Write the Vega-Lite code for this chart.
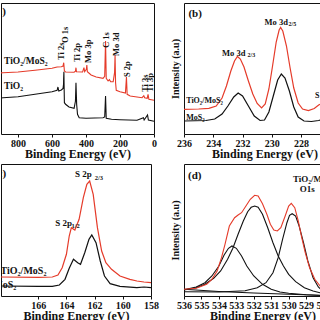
{
  "$schema": "https://vega.github.io/schema/vega-lite/v6.json",
  "background": "white",
  "padding": {"left": -2, "top": 2, "right": 0, "bottom": 0},
  "config": {
    "font": "Liberation Serif",
    "view": {"stroke": "#111111", "strokeWidth": 1},
    "axis": {
      "grid": false, "domain": false,
      "labelFont": "Liberation Serif", "labelFontWeight": "bold", "labelFontSize": 10, "labelColor": "#111111",
      "labelFlush": false, "labelOverlap": false, "labelPadding": 1,
      "titleFont": "Liberation Serif", "titleFontWeight": "bold", "titleFontSize": 12, "titleColor": "#111111", "titlePadding": 0,
      "tickColor": "#111111", "tickSize": 3
    },
    "text": {"font": "Liberation Serif", "fontWeight": "bold", "color": "#111111"}
  },
  "datasets": {
    "a_lines": [
      {"E":900,"I":61.1,"s":"r"},{"E":888,"I":61.3,"s":"r"},{"E":800,"I":62,"s":"r"},{"E":700,"I":63.7,"s":"r"},{"E":600,"I":65.7,"s":"r"},{"E":570,"I":67,"s":"r"},{"E":545,"I":67.3,"s":"r"},{"E":535,"I":68,"s":"r"},{"E":531,"I":71.3,"s":"r"},{"E":527,"I":63,"s":"r"},{"E":520,"I":62,"s":"r"},{"E":470,"I":61.7,"s":"r"},{"E":462,"I":62.7,"s":"r"},{"E":459,"I":66.3,"s":"r"},{"E":456,"I":62.3,"s":"r"},{"E":420,"I":62,"s":"r"},{"E":412,"I":66.3,"s":"r"},{"E":408,"I":62.3,"s":"r"},{"E":398,"I":64.7,"s":"r"},{"E":395,"I":69,"s":"r"},{"E":392,"I":62.3,"s":"r"},{"E":370,"I":59,"s":"r"},{"E":340,"I":57,"s":"r"},{"E":300,"I":55.7,"s":"r"},{"E":290,"I":57.7,"s":"r"},{"E":285,"I":93,"s":"r"},{"E":281,"I":55.7,"s":"r"},{"E":270,"I":53,"s":"r"},{"E":262,"I":54.3,"s":"r"},{"E":255,"I":52.3,"s":"r"},{"E":240,"I":52.3,"s":"r"},{"E":232,"I":61.3,"s":"r"},{"E":229,"I":79,"s":"r"},{"E":226,"I":51.3,"s":"r"},{"E":222,"I":43.7,"s":"r"},{"E":200,"I":42.3,"s":"r"},{"E":168,"I":41,"s":"r"},{"E":162,"I":57,"s":"r"},{"E":158,"I":39.7,"s":"r"},{"E":140,"I":38,"s":"r"},{"E":100,"I":37,"s":"r"},{"E":70,"I":36.3,"s":"r"},{"E":60,"I":38.3,"s":"r"},{"E":55,"I":36.3,"s":"r"},{"E":40,"I":35.7,"s":"r"},{"E":35,"I":39.7,"s":"r"},{"E":30,"I":34.7,"s":"r"},{"E":0,"I":33.7,"s":"r"},
      {"E":900,"I":36,"s":"k"},{"E":888,"I":36.3,"s":"k"},{"E":800,"I":37.3,"s":"k"},{"E":700,"I":39.7,"s":"k"},{"E":600,"I":42.3,"s":"k"},{"E":570,"I":43.7,"s":"k"},{"E":565,"I":47,"s":"k"},{"E":560,"I":43,"s":"k"},{"E":545,"I":44,"s":"k"},{"E":535,"I":45.5,"s":"k"},{"E":532,"I":50,"s":"k"},{"E":531.5,"I":55,"s":"k"},{"E":530,"I":62.3,"s":"k"},{"E":528.5,"I":45,"s":"k"},{"E":527,"I":31.3,"s":"k"},{"E":520,"I":29.7,"s":"k"},{"E":500,"I":27,"s":"k"},{"E":470,"I":25.7,"s":"k"},{"E":462,"I":33,"s":"k"},{"E":459,"I":51.3,"s":"k"},{"E":455,"I":29.7,"s":"k"},{"E":450,"I":19.7,"s":"k"},{"E":440,"I":16.3,"s":"k"},{"E":400,"I":15.7,"s":"k"},{"E":300,"I":16.3,"s":"k"},{"E":290,"I":17,"s":"k"},{"E":285,"I":38,"s":"k"},{"E":281,"I":15.7,"s":"k"},{"E":250,"I":14.7,"s":"k"},{"E":200,"I":14.3,"s":"k"},{"E":100,"I":13.7,"s":"k"},{"E":62,"I":16.3,"s":"k"},{"E":58,"I":14,"s":"k"},{"E":38,"I":19,"s":"k"},{"E":33,"I":14,"s":"k"},{"E":0,"I":12.7,"s":"k"}
    ],
    "a_peaks": [
      {"E":550,"I":74,"t":"Ti 2s"},{"E":523.5,"I":91,"t":"O 1s"},{"E":453,"I":72,"t":"Ti 2p"},{"E":388,"I":71,"t":"Mo 3p"},{"E":282,"I":86,"t":"C 1s"},{"E":223.5,"I":78,"t":"Mo 3d"},{"E":159,"I":57,"t":"S 2p"},{"E":53,"I":42,"t":"Ti 3s"},{"E":23.5,"I":42,"t":"Ti 3p"}
    ],
    "a_names": [
      {"E":882,"I":73,"t":"TiO₂/MoS₂"},{"E":882,"I":48,"t":"TiO₂"}
    ],
    "a_tag": [{"E":870.6,"I":122,"t":"(a)"}],
    "b_lines": [
      {"E":236,"I":24.7,"s":"r"},{"E":235,"I":25,"s":"r"},{"E":234.3,"I":25.7,"s":"r"},{"E":233.8,"I":28,"s":"r"},{"E":233.4,"I":36,"s":"r"},{"E":233.1,"I":48,"s":"r"},{"E":232.8,"I":63,"s":"r"},{"E":232.55,"I":73,"s":"r"},{"E":232.35,"I":77.5,"s":"r"},{"E":232.15,"I":75,"s":"r"},{"E":231.9,"I":67,"s":"r"},{"E":231.6,"I":53,"s":"r"},{"E":231.3,"I":40,"s":"r"},{"E":231,"I":30.5,"s":"r"},{"E":230.7,"I":26,"s":"r"},{"E":230.45,"I":30,"s":"r"},{"E":230.2,"I":45,"s":"r"},{"E":229.95,"I":68,"s":"r"},{"E":229.7,"I":92,"s":"r"},{"E":229.5,"I":104,"s":"r"},{"E":229.4,"I":106.5,"s":"r"},{"E":229.25,"I":103,"s":"r"},{"E":229,"I":88,"s":"r"},{"E":228.75,"I":66,"s":"r"},{"E":228.5,"I":46,"s":"r"},{"E":228.2,"I":31,"s":"r"},{"E":227.9,"I":25,"s":"r"},{"E":227.5,"I":23.5,"s":"r"},{"E":227.1,"I":25.5,"s":"r"},{"E":226.8,"I":29,"s":"r"},{"E":226.5,"I":31,"s":"r"},{"E":226.2,"I":30,"s":"r"},{"E":225.8,"I":28,"s":"r"},{"E":225,"I":26,"s":"r"},
      {"E":236,"I":13,"s":"k"},{"E":234.5,"I":13.5,"s":"k"},{"E":233.9,"I":15,"s":"k"},{"E":233.4,"I":20,"s":"k"},{"E":233,"I":28,"s":"k"},{"E":232.6,"I":37,"s":"k"},{"E":232.3,"I":41,"s":"k"},{"E":232,"I":38,"s":"k"},{"E":231.6,"I":28,"s":"k"},{"E":231.2,"I":18,"s":"k"},{"E":230.8,"I":13.5,"s":"k"},{"E":230.5,"I":14,"s":"k"},{"E":230.2,"I":22,"s":"k"},{"E":229.9,"I":38,"s":"k"},{"E":229.6,"I":54,"s":"k"},{"E":229.35,"I":60,"s":"k"},{"E":229.1,"I":56,"s":"k"},{"E":228.8,"I":43,"s":"k"},{"E":228.5,"I":27,"s":"k"},{"E":228.2,"I":17,"s":"k"},{"E":227.8,"I":13,"s":"k"},{"E":227.3,"I":12.5,"s":"k"},{"E":226.8,"I":13.5,"s":"k"},{"E":226.4,"I":15,"s":"k"},{"E":226,"I":15,"s":"k"},{"E":225,"I":14,"s":"k"}
    ],
    "b_main": [{"E":232.6,"I":81,"t":"Mo 3d"},{"E":229.7,"I":112,"t":"Mo 3d"}],
    "b_sub": [{"E":231.4,"I":79.5,"t":"2/3"},{"E":228.6,"I":109.7,"t":"2/5"}],
    "b_names": [{"E":235.85,"I":33,"t":"TiO₂/MoS₂"},{"E":235.85,"I":16.3,"t":"MoS₂"},{"E":227.05,"I":38,"t":"S 2s"}],
    "b_tag": [{"E":235.7,"I":119.7,"t":"(b)"}],
    "c_lines": [
      {"E":168.64,"I":19,"s":"r"},{"E":166,"I":18.7,"s":"r"},{"E":165,"I":19,"s":"r"},{"E":164.6,"I":21,"s":"r"},{"E":164.3,"I":28.3,"s":"r"},{"E":164,"I":41.7,"s":"r"},{"E":163.8,"I":60,"s":"r"},{"E":163.65,"I":68.3,"s":"r"},{"E":163.4,"I":66,"s":"r"},{"E":163.1,"I":76.7,"s":"r"},{"E":162.8,"I":98.3,"s":"r"},{"E":162.55,"I":111.7,"s":"r"},{"E":162.35,"I":115,"s":"r"},{"E":162.1,"I":101.7,"s":"r"},{"E":161.8,"I":68.3,"s":"r"},{"E":161.5,"I":45,"s":"r"},{"E":161.2,"I":33.3,"s":"r"},{"E":160.8,"I":26.7,"s":"r"},{"E":160.2,"I":20,"s":"r"},{"E":159.5,"I":16.7,"s":"r"},{"E":159,"I":15,"s":"r"},{"E":158.5,"I":14,"s":"r"},{"E":158,"I":13.3,"s":"r"},
      {"E":168.64,"I":10,"s":"k"},{"E":166,"I":9.7,"s":"k"},{"E":165,"I":9.7,"s":"k"},{"E":164.5,"I":11,"s":"k"},{"E":164.1,"I":16.7,"s":"k"},{"E":163.8,"I":27.7,"s":"k"},{"E":163.5,"I":36.7,"s":"k"},{"E":163.2,"I":33.3,"s":"k"},{"E":163,"I":31.7,"s":"k"},{"E":162.7,"I":43.3,"s":"k"},{"E":162.4,"I":56.7,"s":"k"},{"E":162.2,"I":61,"s":"k"},{"E":161.9,"I":53.3,"s":"k"},{"E":161.6,"I":35,"s":"k"},{"E":161.3,"I":20,"s":"k"},{"E":160.9,"I":12.3,"s":"k"},{"E":160.2,"I":9.7,"s":"k"},{"E":159,"I":8.3,"s":"k"},{"E":158.5,"I":9,"s":"k"},{"E":158,"I":8.3,"s":"k"}
    ],
    "c_main": [{"E":162.8,"I":121.7,"t":"S 2p"},{"E":164.2,"I":73.3,"t":"S 2p"}],
    "c_sub": [{"E":161.7,"I":117.7,"t":"2/3"},{"E":163.35,"I":70,"t":"1/2"}],
    "c_names": [{"E":165.42,"I":25,"t":"TiO₂/MoS₂"},{"E":167.55,"I":11,"t":"MoS₂"}],
    "c_tag": [{"E":168.28,"I":122,"t":"(c)"}],
    "d_lines": [
      {"E":536,"I":6.7,"s":"r"},{"E":535.3,"I":7.7,"s":"r"},{"E":534.7,"I":11.7,"s":"r"},{"E":534.4,"I":16.7,"s":"r"},{"E":534.1,"I":25,"s":"r"},{"E":533.85,"I":38.3,"s":"r"},{"E":533.65,"I":51.7,"s":"r"},{"E":533.4,"I":70,"s":"r"},{"E":533.1,"I":78.3,"s":"r"},{"E":532.9,"I":81,"s":"r"},{"E":532.7,"I":83.3,"s":"r"},{"E":532.45,"I":90,"s":"r"},{"E":532.2,"I":96.7,"s":"r"},{"E":531.95,"I":100.7,"s":"r"},{"E":531.75,"I":100,"s":"r"},{"E":531.5,"I":92.3,"s":"r"},{"E":531.25,"I":81.7,"s":"r"},{"E":531.05,"I":71.7,"s":"r"},{"E":530.85,"I":66,"s":"r"},{"E":530.65,"I":65,"s":"r"},{"E":530.45,"I":68.3,"s":"r"},{"E":530.2,"I":80,"s":"r"},{"E":530,"I":90,"s":"r"},{"E":529.85,"I":92.7,"s":"r"},{"E":529.65,"I":88.3,"s":"r"},{"E":529.45,"I":75,"s":"r"},{"E":529.25,"I":58.3,"s":"r"},{"E":529.05,"I":43.3,"s":"r"},{"E":528.8,"I":28.3,"s":"r"},{"E":528.5,"I":16.7,"s":"r"},{"E":528.2,"I":10,"s":"r"},{"E":528,"I":6.7,"s":"r"},{"E":527.5,"I":3.3,"s":"r"},{"E":527,"I":2,"s":"r"},
      {"E":536,"I":6.3,"s":"k1"},{"E":535.3,"I":9,"s":"k1"},{"E":534.8,"I":13.3,"s":"k1"},{"E":534.4,"I":20,"s":"k1"},{"E":534,"I":30,"s":"k1"},{"E":533.7,"I":41,"s":"k1"},{"E":533.45,"I":47.7,"s":"k1"},{"E":533.25,"I":50,"s":"k1"},{"E":533,"I":47.7,"s":"k1"},{"E":532.7,"I":40,"s":"k1"},{"E":532.4,"I":30,"s":"k1"},{"E":532,"I":20,"s":"k1"},{"E":531.5,"I":11.7,"s":"k1"},{"E":531,"I":6.7,"s":"k1"},{"E":530.5,"I":4,"s":"k1"},{"E":530,"I":2.7,"s":"k1"},{"E":529,"I":1.3,"s":"k1"},{"E":528,"I":0.3,"s":"k1"},{"E":527,"I":0,"s":"k1"},
      {"E":536,"I":6,"s":"k2"},{"E":535.3,"I":8.3,"s":"k2"},{"E":534.8,"I":11.7,"s":"k2"},{"E":534.3,"I":17.7,"s":"k2"},{"E":533.9,"I":25,"s":"k2"},{"E":533.5,"I":36.7,"s":"k2"},{"E":533.2,"I":47.7,"s":"k2"},{"E":532.9,"I":61.7,"s":"k2"},{"E":532.6,"I":75,"s":"k2"},{"E":532.35,"I":84.3,"s":"k2"},{"E":532.15,"I":88.7,"s":"k2"},{"E":531.95,"I":90,"s":"k2"},{"E":531.75,"I":88.7,"s":"k2"},{"E":531.5,"I":81.7,"s":"k2"},{"E":531.2,"I":68.3,"s":"k2"},{"E":530.9,"I":53.3,"s":"k2"},{"E":530.6,"I":40,"s":"k2"},{"E":530.3,"I":30,"s":"k2"},{"E":530,"I":21.7,"s":"k2"},{"E":529.6,"I":14.3,"s":"k2"},{"E":529.1,"I":8.3,"s":"k2"},{"E":528.6,"I":5,"s":"k2"},{"E":528,"I":2.3,"s":"k2"},{"E":527,"I":0.7,"s":"k2"},
      {"E":536,"I":4.3,"s":"k3"},{"E":534,"I":4,"s":"k3"},{"E":532.5,"I":5.3,"s":"k3"},{"E":531.8,"I":8.3,"s":"k3"},{"E":531.3,"I":13.3,"s":"k3"},{"E":530.9,"I":23.3,"s":"k3"},{"E":530.6,"I":38.3,"s":"k3"},{"E":530.35,"I":56.7,"s":"k3"},{"E":530.1,"I":73.3,"s":"k3"},{"E":529.95,"I":80.7,"s":"k3"},{"E":529.8,"I":82.3,"s":"k3"},{"E":529.6,"I":80,"s":"k3"},{"E":529.4,"I":70,"s":"k3"},{"E":529.15,"I":53.3,"s":"k3"},{"E":528.9,"I":35,"s":"k3"},{"E":528.6,"I":18.3,"s":"k3"},{"E":528.3,"I":9,"s":"k3"},{"E":528,"I":4.3,"s":"k3"},{"E":527.5,"I":1.7,"s":"k3"},{"E":527,"I":1,"s":"k3"},
      {"E":536,"I":6.7,"s":"kb"},{"E":534,"I":4.5,"s":"kb"},{"E":532,"I":3,"s":"kb"},{"E":530,"I":1.7,"s":"kb"},{"E":528,"I":0.7,"s":"kb"},{"E":527,"I":0.4,"s":"kb"}
    ],
    "d_names": [{"E":529.75,"I":116.7,"t":"TiO₂/MoS₂"},{"E":529.36,"I":106.7,"t":"O1s"}],
    "d_tag": [{"E":535.77,"I":120,"t":"(d)"}]
  },
  "columns": 2,
  "spacing": {"row": 30, "column": 30},
  "bounds": "flush",
  "concat": [
    {
      "width": 153, "height": 131,
      "encoding": {
        "x": {"field": "E", "type": "quantitative", "scale": {"domain": [900, 0], "nice": false, "zero": false},
              "axis": {"title": "Binding Energy (eV)", "values": [800, 600, 400, 200, 0]}},
        "y": {"field": "I", "type": "quantitative", "scale": {"domain": [0, 131], "nice": false, "zero": false}, "axis": null}
      },
      "layer": [
        {"data": {"name": "a_lines"}, "transform": [{"filter": "datum.s === 'k'"}], "mark": {"type": "line", "color": "#111111", "strokeWidth": 1.1}},
        {"data": {"name": "a_lines"}, "transform": [{"filter": "datum.s === 'r'"}], "mark": {"type": "line", "color": "#e53b2a", "strokeWidth": 1.1}},
        {"data": {"name": "a_peaks"}, "mark": {"type": "text", "angle": 270, "align": "left", "baseline": "middle", "fontSize": 8.5, "clip": true}, "encoding": {"text": {"field": "t"}}},
        {"data": {"name": "a_names"}, "mark": {"type": "text", "align": "left", "baseline": "middle", "fontSize": 9.5, "clip": true}, "encoding": {"text": {"field": "t"}}},
        {"data": {"name": "a_tag"}, "mark": {"type": "text", "align": "right", "baseline": "middle", "fontSize": 11, "clip": true}, "encoding": {"text": {"field": "t"}}}
      ]
    },
    {
      "width": 161, "height": 131,
      "encoding": {
        "x": {"field": "E", "type": "quantitative", "scale": {"domain": [236, 225], "nice": false, "zero": false},
              "axis": {"title": "Binding Energy (eV)", "values": [236, 234, 232, 230, 228, 226]}},
        "y": {"field": "I", "type": "quantitative", "scale": {"domain": [0, 131], "nice": false, "zero": false},
              "axis": {"title": "Intensity (a.u)", "labels": false, "ticks": false, "titleFontSize": 10, "titlePadding": 4}}
      },
      "layer": [
        {"data": {"name": "b_lines"}, "transform": [{"filter": "datum.s === 'k'"}], "mark": {"type": "line", "color": "#111111", "strokeWidth": 1.2}},
        {"data": {"name": "b_lines"}, "transform": [{"filter": "datum.s === 'r'"}], "mark": {"type": "line", "color": "#e53b2a", "strokeWidth": 1.2}},
        {"data": {"name": "b_main"}, "mark": {"type": "text", "align": "center", "baseline": "middle", "fontSize": 8.5, "clip": true}, "encoding": {"text": {"field": "t"}}},
        {"data": {"name": "b_sub"}, "mark": {"type": "text", "align": "center", "baseline": "middle", "fontSize": 6, "clip": true}, "encoding": {"text": {"field": "t"}}},
        {"data": {"name": "b_names"}, "mark": {"type": "text", "align": "left", "baseline": "middle", "fontSize": 8, "clip": true}, "encoding": {"text": {"field": "t"}}},
        {"data": {"name": "b_tag"}, "mark": {"type": "text", "align": "left", "baseline": "middle", "fontSize": 11, "clip": true}, "encoding": {"text": {"field": "t"}}}
      ]
    },
    {
      "width": 150, "height": 132,
      "encoding": {
        "x": {"field": "E", "type": "quantitative", "scale": {"domain": [168.64, 158], "nice": false, "zero": false},
              "axis": {"title": "Binding Energy (eV)", "values": [166, 164, 162, 160, 158]}},
        "y": {"field": "I", "type": "quantitative", "scale": {"domain": [0, 132], "nice": false, "zero": false}, "axis": null}
      },
      "layer": [
        {"data": {"name": "c_lines"}, "transform": [{"filter": "datum.s === 'k'"}], "mark": {"type": "line", "color": "#111111", "strokeWidth": 1.2}},
        {"data": {"name": "c_lines"}, "transform": [{"filter": "datum.s === 'r'"}], "mark": {"type": "line", "color": "#e53b2a", "strokeWidth": 1.2}},
        {"data": {"name": "c_main"}, "mark": {"type": "text", "align": "center", "baseline": "middle", "fontSize": 9, "clip": true}, "encoding": {"text": {"field": "t"}}},
        {"data": {"name": "c_sub"}, "mark": {"type": "text", "align": "center", "baseline": "middle", "fontSize": 6.5, "clip": true}, "encoding": {"text": {"field": "t"}}},
        {"data": {"name": "c_names"}, "mark": {"type": "text", "align": "right", "baseline": "middle", "fontSize": 10, "clip": true}, "encoding": {"text": {"field": "t"}}},
        {"data": {"name": "c_tag"}, "mark": {"type": "text", "align": "right", "baseline": "middle", "fontSize": 11, "clip": true}, "encoding": {"text": {"field": "t"}}}
      ]
    },
    {
      "width": 157, "height": 132,
      "encoding": {
        "x": {"field": "E", "type": "quantitative", "scale": {"domain": [536, 527], "nice": false, "zero": false},
              "axis": {"title": "Binding Energy (eV)", "values": [536, 535, 534, 533, 532, 531, 530, 529, 528, 527]}},
        "y": {"field": "I", "type": "quantitative", "scale": {"domain": [0, 132], "nice": false, "zero": false},
              "axis": {"title": "Intensity (a.u)", "labels": false, "ticks": false, "titleFontSize": 10, "titlePadding": 4}}
      },
      "layer": [
        {"data": {"name": "d_lines"}, "transform": [{"filter": "datum.s !== 'r'"}], "mark": {"type": "line", "color": "#111111", "strokeWidth": 1.1}, "encoding": {"detail": {"field": "s"}}},
        {"data": {"name": "d_lines"}, "transform": [{"filter": "datum.s === 'r'"}], "mark": {"type": "line", "color": "#e53b2a", "strokeWidth": 1.1}},
        {"data": {"name": "d_names"}, "mark": {"type": "text", "align": "left", "baseline": "middle", "fontSize": 9, "clip": true}, "encoding": {"text": {"field": "t"}}},
        {"data": {"name": "d_tag"}, "mark": {"type": "text", "align": "left", "baseline": "middle", "fontSize": 11, "clip": true}, "encoding": {"text": {"field": "t"}}}
      ]
    }
  ]
}
